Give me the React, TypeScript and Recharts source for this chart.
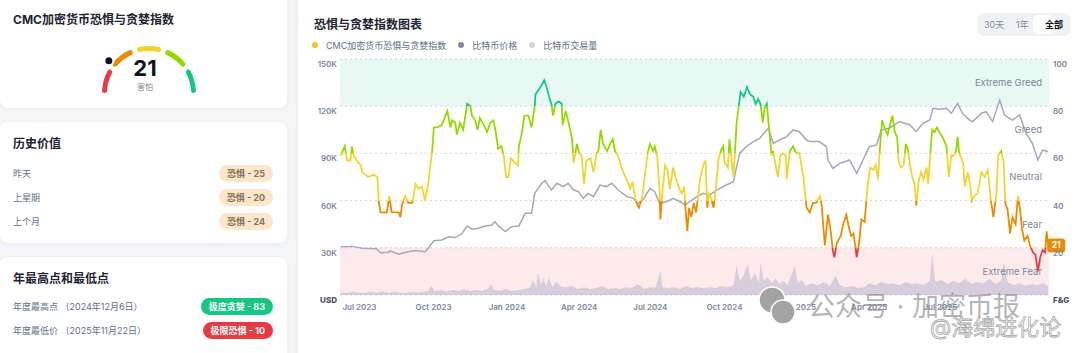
import {
  ComposedChart,
  Line,
  Area,
  XAxis,
  YAxis,
  CartesianGrid,
  ReferenceArea,
  ReferenceLine,
  ReferenceDot,
  PieChart,
  Pie,
  Cell,
} from "recharts";

const FONT = "Inter, 'Noto Sans CJK SC', 'Noto Sans', sans-serif";

// fear & greed zones, low to high
const zoneNames = ["Extreme Fear", "Fear", "Neutral", "Greed", "Extreme Greed"];
const zoneColors = ["#ea3943", "#ea8c00", "#f3d42f", "#93d900", "#16c784"];
const zoneMids = [10, 30, 50, 70, 90];

const currentValue = 21;
const currentLabel = "害怕";

const historyLabels = ["昨天", "上星期", "上个月"];
const historyValues = [25, 20, 24];

const yearLabels = ["年度最高点 （2024年12月6日）", "年度最低价 （2025年11月22日）"];
const yearTags = ["极度贪婪 - 83", "极限恐惧 - 10"];
const yearColors = ["#16c784", "#ea3943"];

const rangeButtons = ["30天", "1年", "全部"];

const seriesNames = ["CMC加密货币恐惧与贪婪指数", "比特币价格", "比特币交易量"];
const seriesColors = ["#f5c414", "#7f889c", "#d3d7df"];

// x axis in days counted from 2023-07-01
const xTickDays = [0, 92, 184, 275, 366, 458, 550, 640, 731];
const xTickLabels = ["Jul 2023", "Oct 2023", "Jan 2024", "Apr 2024", "Jul 2024", "Oct 2024", "Jan 2025", "Apr 2025", "Jul 2025"];
const priceTicks = [0, 30, 60, 90, 120, 150];
const fngTicks = [0, 20, 40, 60, 80, 100];

const fngDays = [
  -2, 3, 6, 10, 12, 14, 18, 23, 25, 29, 33, 39, 44, 46, 48, 56, 59, 62, 67, 71, 73, 75, 79, 83, 88, 92, 96, 100,
  104, 108, 111, 113, 115, 119, 125, 132, 136, 138, 142, 144, 148, 152, 157, 161, 163, 167, 170, 173, 178, 182,
  186, 190, 193, 196, 200, 203, 206, 209, 212, 217, 221, 222, 226, 229, 234, 238, 242, 243, 249, 254, 257, 260,
  263, 265, 268, 272, 276, 277, 281, 284, 289, 291, 295, 298, 301, 304, 307, 312, 316, 320, 322, 325, 328, 333,
  337, 340, 343, 347, 351, 356, 360, 362, 365, 368, 370, 373, 377, 381, 384, 387, 391, 393, 396, 399, 400, 403,
  406, 409, 412, 416, 420, 424, 427, 430, 432, 434, 436, 439, 442, 445, 448, 450, 454, 457, 459, 461, 464, 467,
  470, 473, 476, 479, 481, 485, 487, 490, 492, 494, 496, 499, 501, 505, 509, 513, 517, 520, 523, 526, 529, 531,
  534, 537, 540, 542, 545, 548, 551, 554, 558, 559, 563, 567, 571, 575, 580, 584, 588, 592, 596, 601, 603, 607,
  611, 614, 617, 619, 622, 627, 630, 634, 637, 640, 643, 646, 647, 650, 653, 657, 661, 664, 668, 671, 674, 676,
  679, 682, 686, 689, 692, 695, 698, 700, 703, 706, 709, 712, 714, 717, 720, 722, 725, 728, 731, 735, 737, 740,
  742, 745, 748, 751, 755, 760, 763, 766, 769, 772, 774, 776, 781, 783, 787, 790, 792, 795, 799, 804, 808, 812,
  816, 819, 823, 825, 829, 832, 834, 837, 840, 843, 847, 850, 853, 855, 858, 862, 865, 869, 872, 875, 878, 881,
  884, 886, 888,
];
const fngValues = [
  59, 63, 57, 57, 63, 59, 57, 55, 52, 51, 50, 51, 50, 39, 35, 35, 42, 35, 35, 35, 33, 38, 42, 39, 39, 47, 45, 46,
  40, 47, 56, 61, 71, 71, 72, 78, 71, 74, 73, 68, 73, 70, 81, 80, 76, 74, 70, 75, 72, 69,
  73, 74, 69, 62, 63, 59, 50, 50, 58, 56, 55, 63, 69, 76, 76, 71, 80, 85, 88, 91, 88, 84,
  81, 76, 81, 82, 81, 72, 78, 74, 66, 56, 64, 60, 59, 47, 57, 58, 52, 60, 61, 70, 64, 61,
  64, 66, 61, 59, 54, 50, 47, 45, 48, 42, 39, 37, 41, 52, 60, 64, 61, 63, 59, 45, 32, 45,
  55, 53, 45, 54, 49, 45, 43, 46, 35, 27, 37, 33, 39, 35, 43, 49, 55, 57, 37, 43, 41, 37,
  46, 57, 61, 63, 56, 54, 66, 56, 50, 61, 73, 81, 86, 84, 88, 85, 84, 81, 83, 81, 73, 79,
  81, 70, 59, 61, 55, 50, 59, 60, 59, 49, 61, 63, 60, 60, 50, 37, 35, 39, 39, 42, 38, 21,
  34, 28, 19, 16, 22, 25, 30, 34, 29, 25, 26, 19, 16, 22, 32, 31, 47, 54, 53, 55, 49, 61,
  74, 71, 68, 72, 76, 69, 67, 56, 54, 55, 64, 61, 55, 50, 47, 38, 48, 52, 49, 54, 47, 61,
  70, 69, 71, 69, 67, 63, 50, 59, 59, 61, 67, 60, 56, 46, 52, 46, 40, 42, 43, 52, 50, 53,
  40, 33, 43, 59, 61, 56, 39, 36, 26, 33, 30, 42, 35, 28, 23, 25, 21, 18, 17, 10, 16, 19,
  18, 27, 21,
];

// bitcoin price, thousand USD
const priceDays = [
  -2, 12, 25, 43, 48, 58, 60, 71, 83, 92, 104, 108, 115, 125, 134, 142, 150, 157, 163, 171, 180, 188, 192, 196,
  205, 213, 222, 230, 238, 242, 251, 255, 263, 270, 278, 284, 291, 297, 303, 309, 316, 324, 332, 339, 347, 358,
  366, 372, 378, 387, 393, 399, 408, 416, 425, 431, 437, 446, 454, 462, 471, 483, 492, 496, 500, 508, 517, 525,
  536, 542, 550, 559, 567, 575, 584, 588, 600, 609, 611, 617, 626, 638, 647, 653, 663, 672, 678, 688, 701, 714,
  722, 730, 739, 743, 751, 760, 766, 774, 780, 789, 793, 804, 810, 818, 827, 833, 843, 852, 860, 868, 875, 881,
  888,
];
const priceValues = [
  30.7, 30.9, 29.7, 29.4, 26.9, 27.2, 28, 26, 27.5, 28.3, 27.5, 29.7, 34.5, 35, 37, 36.5, 38.8, 43.9, 41.8, 42.4,
  43.9, 44.5, 46.6, 43.9, 40.3, 43.4, 43.9, 51.9, 51.9, 64.6, 71, 72.7, 66.7, 71, 68.9, 71, 66.7, 65.7, 61.4,
  64.6, 62.5, 69.9, 68.9, 71, 66.7, 62.5, 61.4, 58.3, 60.4, 67.8, 65.7, 58.3, 59.3, 61.4, 59.3, 57.2, 59.3, 62.5,
  64.6, 63.6, 66.7, 69.9, 72, 81.6, 90.1, 94.3, 97.5, 99.6, 106, 96.4, 98.5, 100.7, 104.9, 103.8, 98.5, 97.5,
  97.5, 94.3, 85.8, 80.5, 83.7, 85.8, 77.3, 83.7, 94.3, 95.3, 104.9, 106, 110.2, 108.1, 103.8, 109.1, 111.2,
  118.7, 118, 118.7, 115.5, 121.8, 115.5, 111.2, 110.2, 115.5, 116.5, 110.2, 123.9, 114.4, 111.2, 114.4, 102.8,
  96.4, 85.8, 92.2, 91.1,
];

// bitcoin volume, billion USD
const volumeDays = [
  -2, 5, 13, 20, 28, 35, 43, 50, 58, 65, 73, 80, 88, 95, 103, 108, 112, 116, 123, 131, 138, 146, 153, 161, 168,
  176, 183, 187, 191, 198, 206, 214, 221, 229, 236, 240, 244, 246, 250, 253, 256, 260, 264, 269, 274, 281, 289,
  296, 304, 312, 319, 327, 334, 342, 349, 357, 364, 372, 379, 387, 394, 400, 403, 410, 417, 425, 432, 440, 447,
  455, 462, 470, 477, 485, 492, 496, 500, 505, 510, 514, 519, 524, 526, 530, 535, 540, 545, 550, 555, 560, 569,
  573, 578, 583, 590, 598, 606, 613, 621, 626, 633, 641, 648, 656, 663, 671, 678, 686, 693, 701, 709, 716, 724,
  731, 739, 742, 746, 754, 761, 769, 776, 784, 791, 799, 807, 814, 822, 829, 832, 837, 844, 852, 859, 867, 874,
  882, 888,
];
const volumeValues = [
  6, 5, 8, 6, 5, 8, 6, 9, 5, 8, 6, 5, 8, 6, 8, 11, 23, 10, 13, 9, 13, 10, 14, 10, 13,
  11, 15, 28, 13, 11, 15, 10, 13, 15, 18, 38, 20, 58, 25, 43, 23, 43, 20, 33, 23, 20, 23,
  15, 20, 15, 18, 23, 15, 18, 15, 20, 18, 28, 15, 20, 18, 61, 20, 18, 20, 15, 23, 18, 20,
  18, 20, 18, 23, 20, 25, 74, 36, 51, 79, 38, 56, 30, 84, 36, 46, 30, 41, 28, 36, 25, 74,
  30, 38, 23, 30, 25, 33, 23, 48, 25, 20, 23, 18, 20, 30, 25, 33, 28, 30, 25, 33, 28, 30,
  25, 36, 104, 33, 38, 28, 36, 30, 41, 28, 33, 30, 41, 28, 36, 84, 33, 25, 30, 23, 28, 25,
  30, 23,
];

const fngData = fngDays.map((day, i) => ({ day, fng: fngValues[i] }));
const priceData = priceDays.map((day, i) => ({ day, price: priceValues[i] }));
const volumeData = volumeDays.map((day, i) => ({ day, vol: volumeValues[i] }));
const gaugeData = zoneNames.map((name) => ({ name, value: 20 }));
const lastDay = fngDays[fngDays.length - 1];

const PLOT_TOP = 9;
const PLOT_H = 236;
const AXIS_GREY = "#7d879a";

const PriceTick = ({ x, y, payload }: any) => (
  <text x={x} y={y} dy={8} textAnchor="end" fontSize={8} fontWeight={payload.value === 0 ? 800 : 600}
    fill={payload.value === 0 ? "#4a5468" : AXIS_GREY} fontFamily={FONT}>
    {payload.value === 0 ? "USD" : `${payload.value}K`}
  </text>
);

const FngTick = ({ x, y, payload }: any) => (
  <text x={x} y={y} dy={8} textAnchor="start" fontSize={8} fontWeight={payload.value === 0 ? 800 : 600}
    fill={payload.value === 0 ? "#4a5468" : AXIS_GREY} fontFamily={FONT}>
    {payload.value === 0 ? "F&G" : payload.value}
  </text>
);

const DateTick = ({ x, y, payload }: any) => (
  <text x={x} y={y} dy={15} textAnchor="start" fontSize={8} fontWeight={600} fill={AXIS_GREY} fontFamily={FONT}>
    {xTickLabels[xTickDays.indexOf(payload.value)]}
  </text>
);

const Badge = ({ cx, cy }: any) => (
  <g>
    <rect x={cx - 1} y={cy - 7} width={18} height={14} rx={3} fill="#ea8c00" />
    <text x={cx + 8} y={cy} dy={3} textAnchor="middle" fontSize={8.5} fontWeight={700} fill="#fff" fontFamily={FONT}>
      {currentValue}
    </text>
  </g>
);

const card: React.CSSProperties = {
  position: "absolute",
  background: "#fff",
  borderRadius: 8,
  boxShadow: "0 1px 4px rgba(20,30,60,0.05)",
};

const titleStyle: React.CSSProperties = {
  position: "absolute",
  left: 13,
  fontSize: 12,
  lineHeight: "16px",
  fontWeight: 700,
  color: "#222531",
};

function Row({ top, label, tag, bg, color }: { top: number; label: string; tag: string; bg: string; color: string }) {
  return (
    <div style={{ position: "absolute", left: 13, right: 14, top, height: 17, display: "flex", alignItems: "center", justifyContent: "space-between" }}>
      <span style={{ fontSize: 9, color: "#616e85" }}>{label}</span>
      <span style={{ height: 17, lineHeight: "17px", padding: "0 8px", borderRadius: 9, background: bg, color, fontSize: 9, fontWeight: 700 }}>
        {tag}
      </span>
    </div>
  );
}

export default function App() {
  const ang = Math.PI * (1 - currentValue / 100);
  const dotX = 144 + 44.5 * Math.cos(ang);
  const dotY = 88 - 44.5 * Math.sin(ang);
  const stops = zoneColors.slice().reverse();

  return (
    <div style={{ position: "relative", width: 1080, height: 353, overflow: "hidden", background: "#f4f5f7", fontFamily: FONT }}>
      <style>{"body{margin:0}"}</style>

      {/* gauge card */}
      <div style={{ ...card, left: 0, top: -8, width: 287, height: 116 }}>
        <div style={{ ...titleStyle, top: 20 }}>CMC加密货币恐惧与贪婪指数</div>
      </div>
      <div style={{ position: "absolute", left: 84, top: 30 }}>
        <PieChart width={120} height={70}>
          <Pie data={gaugeData} dataKey="value" cx={60} cy={58} startAngle={180} endAngle={0}
            innerRadius={42} outerRadius={47} paddingAngle={6} cornerRadius={2.5} stroke="none" isAnimationActive={false}>
            {gaugeData.map((d, i) => <Cell key={d.name} fill={zoneColors[i]} />)}
          </Pie>
        </PieChart>
      </div>
      <svg style={{ position: "absolute", left: 0, top: 0 }} width={290} height={110}>
        <circle cx={dotX} cy={dotY} r={4.5} fill="#0d1421" stroke="#fff" strokeWidth={2} />
      </svg>
      <div style={{ position: "absolute", left: 115, width: 60, top: 55, textAlign: "center", fontSize: 22, lineHeight: "26px", fontWeight: 700, color: "#0d1421" }}>
        {currentValue}
      </div>
      <div style={{ position: "absolute", left: 115, width: 60, top: 81, textAlign: "center", fontSize: 8, lineHeight: "12px", color: "#808a9d" }}>
        {currentLabel}
      </div>

      {/* history card */}
      <div style={{ ...card, left: 0, top: 122, width: 287, height: 121 }}>
        <div style={{ ...titleStyle, top: 14 }}>历史价值</div>
        {historyLabels.map((l, i) => (
          <Row key={l} top={42.5 + i * 24} label={l} tag={`恐惧 - ${historyValues[i]}`} bg="#fde6c9" color="#857463" />
        ))}
      </div>

      {/* yearly high / low card */}
      <div style={{ ...card, left: 0, top: 257, width: 287, height: 110 }}>
        <div style={{ ...titleStyle, top: 14 }}>年最高点和最低点</div>
        {yearLabels.map((l, i) => (
          <Row key={l} top={40.5 + i * 24} label={l} tag={yearTags[i]} bg={yearColors[i]} color="#fff" />
        ))}
      </div>

      {/* chart card */}
      <div style={{ ...card, left: 298, top: -8, width: 800, height: 370 }} />
      <div style={{ ...titleStyle, left: 314, top: 17 }}>恐惧与贪婪指数图表</div>
      <div style={{ position: "absolute", left: 312, top: 39, height: 12, display: "flex", alignItems: "center", fontSize: 9, color: "#616e85" }}>
        {seriesNames.map((n, i) => (
          <div key={n} style={{ display: "flex", alignItems: "center", marginRight: 12 }}>
            <span style={{ width: 6, height: 6, borderRadius: 3, background: seriesColors[i], marginRight: 8 }} />
            {n}
          </div>
        ))}
      </div>
      <div style={{ position: "absolute", left: 978, top: 13, width: 92, height: 23, borderRadius: 6, background: "#eff2f5", fontSize: 9 }}>
        <div style={{ position: "absolute", left: 55, top: 2, width: 21, height: 19, borderRadius: 5, background: "#fff" }} />
        {rangeButtons.map((b, i) => (
          <div key={b} style={{ position: "absolute", left: [6, 38, 67][i], top: 0, lineHeight: "23px",
            color: i === 2 ? "#0d1421" : "#808a9d", fontWeight: i === 2 ? 700 : 400 }}>
            {b}
          </div>
        ))}
      </div>

      <div style={{ position: "absolute", left: 298, top: 50 }}>
        <ComposedChart width={782} height={303} margin={{ top: PLOT_TOP, right: 0, bottom: 38, left: 0 }}>
          <defs>
            <linearGradient id="fngStroke" gradientUnits="userSpaceOnUse" x1="0" y1={PLOT_TOP} x2="0" y2={PLOT_TOP + PLOT_H}>
              {stops.flatMap((c, i) => [
                <stop key={c + "a"} offset={i * 0.2} stopColor={c} />,
                <stop key={c + "b"} offset={(i + 1) * 0.2} stopColor={c} />,
              ])}
            </linearGradient>
          </defs>
          <XAxis type="number" dataKey="day" domain={[-3, 889]} ticks={xTickDays} interval={0} allowDataOverflow
            tick={<DateTick />} axisLine={false} tickLine={false} tickSize={0} tickMargin={0} height={20} />
          <YAxis yAxisId="price" orientation="left" width={42} domain={[0, 150]} ticks={priceTicks} interval={0}
            tick={<PriceTick />} axisLine={false} tickLine={false} tickSize={0} tickMargin={3} />
          <YAxis yAxisId="fng" orientation="right" width={31} domain={[0, 100]} ticks={fngTicks} interval={0}
            tick={<FngTick />} axisLine={false} tickLine={false} tickSize={0} tickMargin={4} />
          <YAxis yAxisId="vol" hide domain={[0, 600]} />
          <ReferenceArea yAxisId="fng" y1={80} y2={100} fill="#16c784" fillOpacity={0.1} stroke="none" />
          <ReferenceArea yAxisId="fng" y1={0} y2={20} fill="#ea3943" fillOpacity={0.1} stroke="none" />
          <CartesianGrid yAxisId="fng" vertical={false} strokeDasharray="2 3" stroke="#d3d7df" />
          <Area yAxisId="vol" data={volumeData} dataKey="vol" type="linear" stroke="none" fill="#b3b0cc"
            fillOpacity={0.5} isAnimationActive={false} />
          <Line yAxisId="price" data={priceData} dataKey="price" type="linear" stroke="#a3a9bc" strokeWidth={1.5}
            dot={false} isAnimationActive={false} />
          <Line yAxisId="fng" data={fngData} dataKey="fng" type="linear" stroke="url(#fngStroke)" strokeWidth={1.8}
            dot={false} isAnimationActive={false} />
          {zoneNames.map((n, i) => (
            <ReferenceLine key={n} yAxisId="fng" y={zoneMids[i]} stroke="none"
              label={{ value: n, position: "insideRight", offset: 7, fill: "#7e8699", fontSize: 9.5, fontFamily: FONT }} />
          ))}
          <ReferenceDot yAxisId="fng" x={lastDay} y={currentValue} shape={<Badge />} />
        </ComposedChart>
      </div>

      {/* watermarks */}
      <svg style={{ position: "absolute", left: 750, top: 285, pointerEvents: "none" }} width={60} height={45}>
        <circle cx={22} cy={15} r={13} fill="#a3a3a3" stroke="#fff" strokeWidth={1.5} />
        <circle cx={33} cy={27} r={12} fill="#a3a3a3" stroke="#fff" strokeWidth={1.5} />
      </svg>
      <div style={{ position: "absolute", left: 808, top: 290, fontSize: 27, lineHeight: "34px", color: "rgba(130,130,130,0.6)", whiteSpace: "nowrap", pointerEvents: "none" }}>
        公众号 · 加密币报
      </div>
      <div style={{ position: "absolute", left: 930, top: 313, fontSize: 22, lineHeight: "28px", color: "rgba(255,255,255,0.5)", WebkitTextStroke: "0.8px #a8a8a8", whiteSpace: "nowrap", pointerEvents: "none" }}>
        @海绵进化论
      </div>
    </div>
  );
}
